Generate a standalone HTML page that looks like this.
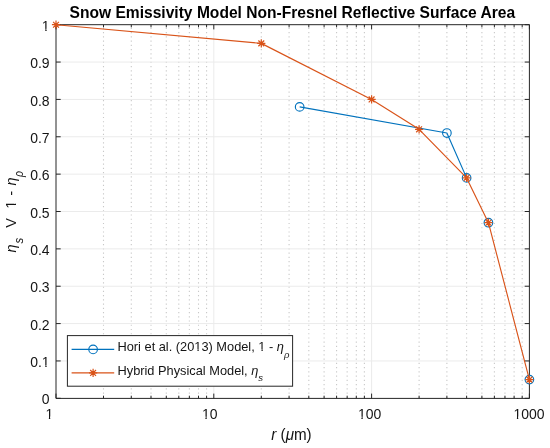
<!DOCTYPE html>
<html><head><meta charset="utf-8"><style>
html,body{margin:0;padding:0;background:#fff;width:550px;height:448px;overflow:hidden}
svg{display:block}
text{font-family:"Liberation Sans",Arial,sans-serif;fill:#141414}
</style></head><body>
<svg width="550" height="448" viewBox="0 0 550 448">
<rect x="0" y="0" width="550" height="448" fill="#fff"/>

<g stroke="#c8c8c8" stroke-width="1.1" stroke-dasharray="1.2 3.04" stroke-dashoffset="1.08" fill="none">
<line x1="103.50" y1="24.70" x2="103.50" y2="398.30"/>
<line x1="131.29" y1="24.70" x2="131.29" y2="398.30"/>
<line x1="151.01" y1="24.70" x2="151.01" y2="398.30"/>
<line x1="166.30" y1="24.70" x2="166.30" y2="398.30"/>
<line x1="178.79" y1="24.70" x2="178.79" y2="398.30"/>
<line x1="189.36" y1="24.70" x2="189.36" y2="398.30"/>
<line x1="198.51" y1="24.70" x2="198.51" y2="398.30"/>
<line x1="206.58" y1="24.70" x2="206.58" y2="398.30"/>
<line x1="261.30" y1="24.70" x2="261.30" y2="398.30"/>
<line x1="289.09" y1="24.70" x2="289.09" y2="398.30"/>
<line x1="308.81" y1="24.70" x2="308.81" y2="398.30"/>
<line x1="324.10" y1="24.70" x2="324.10" y2="398.30"/>
<line x1="336.59" y1="24.70" x2="336.59" y2="398.30"/>
<line x1="347.16" y1="24.70" x2="347.16" y2="398.30"/>
<line x1="356.31" y1="24.70" x2="356.31" y2="398.30"/>
<line x1="364.38" y1="24.70" x2="364.38" y2="398.30"/>
<line x1="419.10" y1="24.70" x2="419.10" y2="398.30"/>
<line x1="446.89" y1="24.70" x2="446.89" y2="398.30"/>
<line x1="466.61" y1="24.70" x2="466.61" y2="398.30"/>
<line x1="481.90" y1="24.70" x2="481.90" y2="398.30"/>
<line x1="494.39" y1="24.70" x2="494.39" y2="398.30"/>
<line x1="504.96" y1="24.70" x2="504.96" y2="398.30"/>
<line x1="514.11" y1="24.70" x2="514.11" y2="398.30"/>
<line x1="522.18" y1="24.70" x2="522.18" y2="398.30"/>
</g>
<g stroke="#ebebeb" stroke-width="1" fill="none">
<line x1="213.80" y1="24.70" x2="213.80" y2="398.30"/>
<line x1="371.60" y1="24.70" x2="371.60" y2="398.30"/>
<line x1="56.00" y1="360.94" x2="529.40" y2="360.94"/>
<line x1="56.00" y1="323.58" x2="529.40" y2="323.58"/>
<line x1="56.00" y1="286.22" x2="529.40" y2="286.22"/>
<line x1="56.00" y1="248.86" x2="529.40" y2="248.86"/>
<line x1="56.00" y1="211.50" x2="529.40" y2="211.50"/>
<line x1="56.00" y1="174.14" x2="529.40" y2="174.14"/>
<line x1="56.00" y1="136.78" x2="529.40" y2="136.78"/>
<line x1="56.00" y1="99.42" x2="529.40" y2="99.42"/>
<line x1="56.00" y1="62.06" x2="529.40" y2="62.06"/>
</g>
<g stroke="#262626" stroke-width="1" fill="none">
<line x1="56.00" y1="398.30" x2="56.00" y2="393.60"/>
<line x1="56.00" y1="24.70" x2="56.00" y2="29.40"/>
<line x1="213.80" y1="398.30" x2="213.80" y2="393.60"/>
<line x1="213.80" y1="24.70" x2="213.80" y2="29.40"/>
<line x1="371.60" y1="398.30" x2="371.60" y2="393.60"/>
<line x1="371.60" y1="24.70" x2="371.60" y2="29.40"/>
<line x1="529.40" y1="398.30" x2="529.40" y2="393.60"/>
<line x1="529.40" y1="24.70" x2="529.40" y2="29.40"/>
<line x1="103.50" y1="398.30" x2="103.50" y2="395.70"/>
<line x1="103.50" y1="24.70" x2="103.50" y2="27.30"/>
<line x1="131.29" y1="398.30" x2="131.29" y2="395.70"/>
<line x1="131.29" y1="24.70" x2="131.29" y2="27.30"/>
<line x1="151.01" y1="398.30" x2="151.01" y2="395.70"/>
<line x1="151.01" y1="24.70" x2="151.01" y2="27.30"/>
<line x1="166.30" y1="398.30" x2="166.30" y2="395.70"/>
<line x1="166.30" y1="24.70" x2="166.30" y2="27.30"/>
<line x1="178.79" y1="398.30" x2="178.79" y2="395.70"/>
<line x1="178.79" y1="24.70" x2="178.79" y2="27.30"/>
<line x1="189.36" y1="398.30" x2="189.36" y2="395.70"/>
<line x1="189.36" y1="24.70" x2="189.36" y2="27.30"/>
<line x1="198.51" y1="398.30" x2="198.51" y2="395.70"/>
<line x1="198.51" y1="24.70" x2="198.51" y2="27.30"/>
<line x1="206.58" y1="398.30" x2="206.58" y2="395.70"/>
<line x1="206.58" y1="24.70" x2="206.58" y2="27.30"/>
<line x1="261.30" y1="398.30" x2="261.30" y2="395.70"/>
<line x1="261.30" y1="24.70" x2="261.30" y2="27.30"/>
<line x1="289.09" y1="398.30" x2="289.09" y2="395.70"/>
<line x1="289.09" y1="24.70" x2="289.09" y2="27.30"/>
<line x1="308.81" y1="398.30" x2="308.81" y2="395.70"/>
<line x1="308.81" y1="24.70" x2="308.81" y2="27.30"/>
<line x1="324.10" y1="398.30" x2="324.10" y2="395.70"/>
<line x1="324.10" y1="24.70" x2="324.10" y2="27.30"/>
<line x1="336.59" y1="398.30" x2="336.59" y2="395.70"/>
<line x1="336.59" y1="24.70" x2="336.59" y2="27.30"/>
<line x1="347.16" y1="398.30" x2="347.16" y2="395.70"/>
<line x1="347.16" y1="24.70" x2="347.16" y2="27.30"/>
<line x1="356.31" y1="398.30" x2="356.31" y2="395.70"/>
<line x1="356.31" y1="24.70" x2="356.31" y2="27.30"/>
<line x1="364.38" y1="398.30" x2="364.38" y2="395.70"/>
<line x1="364.38" y1="24.70" x2="364.38" y2="27.30"/>
<line x1="419.10" y1="398.30" x2="419.10" y2="395.70"/>
<line x1="419.10" y1="24.70" x2="419.10" y2="27.30"/>
<line x1="446.89" y1="398.30" x2="446.89" y2="395.70"/>
<line x1="446.89" y1="24.70" x2="446.89" y2="27.30"/>
<line x1="466.61" y1="398.30" x2="466.61" y2="395.70"/>
<line x1="466.61" y1="24.70" x2="466.61" y2="27.30"/>
<line x1="481.90" y1="398.30" x2="481.90" y2="395.70"/>
<line x1="481.90" y1="24.70" x2="481.90" y2="27.30"/>
<line x1="494.39" y1="398.30" x2="494.39" y2="395.70"/>
<line x1="494.39" y1="24.70" x2="494.39" y2="27.30"/>
<line x1="504.96" y1="398.30" x2="504.96" y2="395.70"/>
<line x1="504.96" y1="24.70" x2="504.96" y2="27.30"/>
<line x1="514.11" y1="398.30" x2="514.11" y2="395.70"/>
<line x1="514.11" y1="24.70" x2="514.11" y2="27.30"/>
<line x1="522.18" y1="398.30" x2="522.18" y2="395.70"/>
<line x1="522.18" y1="24.70" x2="522.18" y2="27.30"/>
<line x1="56.00" y1="398.30" x2="60.70" y2="398.30"/>
<line x1="529.40" y1="398.30" x2="524.70" y2="398.30"/>
<line x1="56.00" y1="360.94" x2="60.70" y2="360.94"/>
<line x1="529.40" y1="360.94" x2="524.70" y2="360.94"/>
<line x1="56.00" y1="323.58" x2="60.70" y2="323.58"/>
<line x1="529.40" y1="323.58" x2="524.70" y2="323.58"/>
<line x1="56.00" y1="286.22" x2="60.70" y2="286.22"/>
<line x1="529.40" y1="286.22" x2="524.70" y2="286.22"/>
<line x1="56.00" y1="248.86" x2="60.70" y2="248.86"/>
<line x1="529.40" y1="248.86" x2="524.70" y2="248.86"/>
<line x1="56.00" y1="211.50" x2="60.70" y2="211.50"/>
<line x1="529.40" y1="211.50" x2="524.70" y2="211.50"/>
<line x1="56.00" y1="174.14" x2="60.70" y2="174.14"/>
<line x1="529.40" y1="174.14" x2="524.70" y2="174.14"/>
<line x1="56.00" y1="136.78" x2="60.70" y2="136.78"/>
<line x1="529.40" y1="136.78" x2="524.70" y2="136.78"/>
<line x1="56.00" y1="99.42" x2="60.70" y2="99.42"/>
<line x1="529.40" y1="99.42" x2="524.70" y2="99.42"/>
<line x1="56.00" y1="62.06" x2="60.70" y2="62.06"/>
<line x1="529.40" y1="62.06" x2="524.70" y2="62.06"/>
<line x1="56.00" y1="24.70" x2="60.70" y2="24.70"/>
<line x1="529.40" y1="24.70" x2="524.70" y2="24.70"/>
<path d="M56.00,24.70H529.40V398.4H56.00Z"/>
</g>
<polyline points="299.65,106.89 446.89,133.04 466.61,177.88" fill="none" stroke="#0072BD" stroke-width="1.15" stroke-linejoin="round"/>
<circle cx="299.65" cy="106.89" r="4.3" fill="none" stroke="#0072BD" stroke-width="1.15"/>
<circle cx="446.89" cy="133.04" r="4.3" fill="none" stroke="#0072BD" stroke-width="1.15"/>
<circle cx="466.61" cy="177.88" r="4.3" fill="none" stroke="#0072BD" stroke-width="1.15"/>
<circle cx="488.43" cy="222.71" r="4.3" fill="none" stroke="#0072BD" stroke-width="1.15"/>
<circle cx="529.40" cy="379.62" r="4.3" fill="none" stroke="#0072BD" stroke-width="1.15"/>
<polyline points="56.00,24.70 261.30,43.38 371.60,99.42 419.10,129.31 466.61,177.88 488.43,222.71 529.40,379.62" fill="none" stroke="#D95319" stroke-width="1.15" stroke-linejoin="round"/>
<path d="M51.90,24.70H60.10M56.00,20.60V28.80M53.10,21.80L58.90,27.60M53.10,27.60L58.90,21.80" fill="none" stroke="#D95319" stroke-width="1.2"/>
<path d="M257.20,43.38H265.40M261.30,39.28V47.48M258.40,40.48L264.20,46.28M258.40,46.28L264.20,40.48" fill="none" stroke="#D95319" stroke-width="1.2"/>
<path d="M367.50,99.42H375.70M371.60,95.32V103.52M368.70,96.52L374.50,102.32M368.70,102.32L374.50,96.52" fill="none" stroke="#D95319" stroke-width="1.2"/>
<path d="M415.00,129.31H423.20M419.10,125.21V133.41M416.20,126.41L422.00,132.21M416.20,132.21L422.00,126.41" fill="none" stroke="#D95319" stroke-width="1.2"/>
<path d="M462.51,177.88H470.71M466.61,173.78V181.98M463.71,174.98L469.50,180.78M463.71,180.78L469.50,174.98" fill="none" stroke="#D95319" stroke-width="1.2"/>
<path d="M484.33,222.71H492.53M488.43,218.61V226.81M485.53,219.81L491.33,225.61M485.53,225.61L491.33,219.81" fill="none" stroke="#D95319" stroke-width="1.2"/>
<path d="M525.30,379.62H533.50M529.40,375.52V383.72M526.50,376.72L532.30,382.52M526.50,382.52L532.30,376.72" fill="none" stroke="#D95319" stroke-width="1.2"/>
<g font-size="14">
<text transform="translate(49.60,404.40) scale(1,1.067)" text-anchor="end" >0</text>
<g clip-path="url(#fc0)"><text transform="translate(49.60,367.04) scale(1,1.067)" text-anchor="end" >0.1</text></g>
<text transform="translate(49.60,329.68) scale(1,1.067)" text-anchor="end" >0.2</text>
<text transform="translate(49.60,292.32) scale(1,1.067)" text-anchor="end" >0.3</text>
<text transform="translate(49.60,254.96) scale(1,1.067)" text-anchor="end" >0.4</text>
<text transform="translate(49.60,217.60) scale(1,1.067)" text-anchor="end" >0.5</text>
<text transform="translate(49.60,180.24) scale(1,1.067)" text-anchor="end" >0.6</text>
<text transform="translate(49.60,142.88) scale(1,1.067)" text-anchor="end" >0.7</text>
<text transform="translate(49.60,105.52) scale(1,1.067)" text-anchor="end" >0.8</text>
<text transform="translate(49.60,68.16) scale(1,1.067)" text-anchor="end" >0.9</text>
<g clip-path="url(#fc1)"><text transform="translate(49.60,30.80) scale(1,1.067)" text-anchor="end" >1</text></g>
<g clip-path="url(#fc2)"><text transform="translate(49.30,418.60) scale(1,1.067)" text-anchor="middle" >1</text></g>
<g clip-path="url(#fc3)"><text transform="translate(209.70,418.60) scale(1,1.067)" text-anchor="middle" >10</text></g>
<g clip-path="url(#fc4)"><text transform="translate(369.60,418.60) scale(1,1.067)" text-anchor="middle" >100</text></g>
<g clip-path="url(#fc5)"><text transform="translate(529.00,418.60) scale(1,1.067)" text-anchor="middle" >1000</text></g>
</g>
<text transform="translate(292.35,18.10) scale(1,1.067)" text-anchor="middle" font-size="15.6" font-weight="bold" style="fill:#000">Snow Emissivity Model Non-Fresnel Reflective Surface Area</text>
<text transform="translate(291.5,439.9) scale(1,1.03)" text-anchor="middle" font-size="15.2"><tspan font-style="italic">r</tspan> (<tspan font-style="italic">μ</tspan>m)</text>
<g transform="translate(16.2,260) rotate(-90)">
<g clip-path="url(#fc6)"><text font-size="14.5"><tspan x="7.5" y="0" font-style="italic">η</tspan><tspan x="32.3" y="0">V</tspan><tspan x="51.3" y="0">1</tspan><tspan x="64.3" y="0">-</tspan><tspan x="74.4" y="0" font-style="italic">η</tspan></text></g>
<text transform="translate(16.5,7.0) scale(0.85,1)" font-size="13.5" font-style="italic">s</text>
<text transform="translate(82.9,7.1) scale(0.88,1)" font-size="11.9" font-style="italic">ρ</text>
</g>
<rect x="67.4" y="335.6" width="225.2" height="50.6" fill="#fff" stroke="#262626" stroke-width="1"/>
<line x1="71.6" y1="349.4" x2="114.2" y2="349.4" stroke="#0072BD" stroke-width="1.15"/>
<circle cx="93.10" cy="349.40" r="4.3" fill="none" stroke="#0072BD" stroke-width="1.15"/>
<line x1="71.6" y1="372.9" x2="114.2" y2="372.9" stroke="#D95319" stroke-width="1.15"/>
<path d="M89.00,372.90H97.20M93.10,368.80V377.00M90.20,370.00L96.00,375.80M90.20,375.80L96.00,370.00" fill="none" stroke="#D95319" stroke-width="1.2"/>
<g clip-path="url(#fc7)"><text x="117.5" y="351.1" font-size="12.8">Hori et al. (2013) Model, 1 - <tspan font-style="italic">η</tspan><tspan font-style="italic" font-size="9.5" dy="6.7">ρ</tspan></text></g>
<text x="117.5" y="374.7" font-size="12.8">Hybrid Physical Model, <tspan font-style="italic">η</tspan><tspan font-style="italic" font-size="9.5" dy="6.7">s</tspan></text>
<defs><clipPath id="fc0" clipPathUnits="userSpaceOnUse"><path clip-rule="evenodd" d="M0,0H550V448H0ZM42.18,364.92H45.29V368.04H42.18ZM46.63,364.92H49.61V368.04H46.63Z"/></clipPath><clipPath id="fc1" clipPathUnits="userSpaceOnUse"><path clip-rule="evenodd" d="M0,0H550V448H0ZM42.18,28.68H45.29V31.80H42.18ZM46.63,28.68H49.61V31.80H46.63Z"/></clipPath><clipPath id="fc2" clipPathUnits="userSpaceOnUse"><path clip-rule="evenodd" d="M0,0H550V448H0ZM45.77,416.48H48.88V419.60H45.77ZM50.22,416.48H53.21V419.60H50.22Z"/></clipPath><clipPath id="fc3" clipPathUnits="userSpaceOnUse"><path clip-rule="evenodd" d="M0,0H550V448H0ZM202.28,416.48H205.39V419.60H202.28ZM206.73,416.48H209.71V419.60H206.73Z"/></clipPath><clipPath id="fc4" clipPathUnits="userSpaceOnUse"><path clip-rule="evenodd" d="M0,0H550V448H0ZM358.29,416.48H361.40V419.60H358.29ZM362.73,416.48H365.72V419.60H362.73Z"/></clipPath><clipPath id="fc5" clipPathUnits="userSpaceOnUse"><path clip-rule="evenodd" d="M0,0H550V448H0ZM513.80,416.48H516.90V419.60H513.80ZM518.24,416.48H521.23V419.60H518.24Z"/></clipPath><clipPath id="fc6" clipPathUnits="userSpaceOnUse"><path clip-rule="evenodd" d="M-50,-50H200V50H-50ZM51.70,-2.08H54.90V1.00H51.70ZM56.28,-2.08H59.35V1.00H56.28Z"/></clipPath><clipPath id="fc7" clipPathUnits="userSpaceOnUse"><path clip-rule="evenodd" d="M0,0H550V448H0ZM194.58,349.14H197.48V352.10H194.58ZM198.71,349.14H201.50V352.10H198.71ZM258.60,349.14H261.50V352.10H258.60ZM262.73,349.14H265.52V352.10H262.73Z"/></clipPath></defs>
</svg></body></html>
